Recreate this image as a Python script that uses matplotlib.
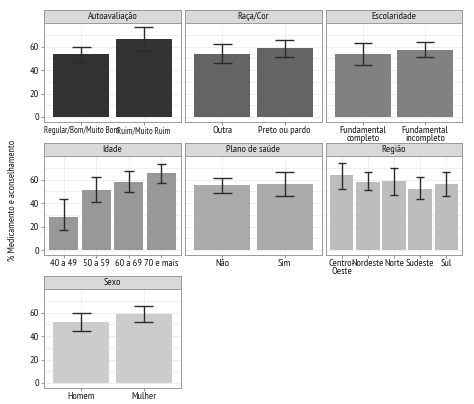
import numpy as np
import matplotlib
matplotlib.use("Agg")
import matplotlib.pyplot as plt

plt.rcParams['font.family'] = ['PT Sans Narrow', 'Open Sans Condensed',
                               'Fira Sans Condensed', 'DejaVu Sans']

# Data (percent, lower CI, upper CI) per facet
facets = ['Autoavaliação', 'Raça/Cor', 'Escolaridade', 'Idade',
          'Plano de saúde', 'Região', 'Sexo']

auto_cats = ['Regular/Bom/Muito Bom', 'Ruim/Muito Ruim']
auto_val = [53.2, 66.8]
auto_lo = [47.1, 56.2]
auto_hi = [59.5, 76.6]

raca_cats = ['Outra', 'Preto ou pardo']
raca_val = [53.8, 58.4]
raca_lo = [46.0, 50.8]
raca_hi = [61.8, 65.8]

esc_cats = ['Fundamental\ncompleto', 'Fundamental\nincompleto']
esc_val = [53.3, 57.3]
esc_lo = [44.1, 51.1]
esc_hi = [62.6, 63.8]

idade_cats = ['40 a 49', '50 a 59', '60 a 69', '70 e mais']
idade_val = [28.3, 51.2, 58.0, 65.4]
idade_lo = [16.6, 41.0, 49.0, 56.9]
idade_hi = [43.0, 62.2, 67.6, 73.6]

plano_cats = ['Não', 'Sim']
plano_val = [55.2, 56.3]
plano_lo = [48.7, 45.8]
plano_hi = [61.4, 66.8]

regiao_cats = ['Centro-\nOeste', 'Nordeste', 'Norte', 'Sudeste', 'Sul']
regiao_val = [63.9, 58.3, 58.9, 52.0, 56.0]
regiao_lo = [51.8, 50.7, 46.7, 43.0, 45.8]
regiao_hi = [74.4, 66.8, 69.6, 62.5, 66.8]

sexo_cats = ['Homem', 'Mulher']
sexo_val = [51.8, 58.9]
sexo_lo = [44.0, 51.6]
sexo_hi = [60.0, 65.3]

panels = [
    (auto_cats, auto_val, auto_lo, auto_hi),
    (raca_cats, raca_val, raca_lo, raca_hi),
    (esc_cats, esc_val, esc_lo, esc_hi),
    (idade_cats, idade_val, idade_lo, idade_hi),
    (plano_cats, plano_val, plano_lo, plano_hi),
    (regiao_cats, regiao_val, regiao_lo, regiao_hi),
    (sexo_cats, sexo_val, sexo_lo, sexo_hi),
]

# grey scale like ggplot's scale_fill_grey
g = np.linspace(0.2 ** 2.2, 0.8 ** 2.2, len(facets)) ** (1 / 2.2)
fills = [(v, v, v) for v in g]

W, H = 474, 404
fig = plt.figure(figsize=(W / 100, H / 100), dpi=100)

col_x = [44, 185, 326]
col_w = [137, 137, 136]
row_strip = [10, 143, 276]
strip_h = 12.5
panel_h = 99
fs = 7.4

ymax = max(max(p[3]) for p in panels)
ylim = (-0.05 * ymax, ymax * 1.05)

for i, (name, (cats, val, lo, hi)) in enumerate(zip(facets, panels)):
    r, c = divmod(i, 3)
    x0, w = col_x[c], col_w[c]
    top = row_strip[r] + strip_h
    ax = fig.add_axes([x0 / W, 1 - (top + panel_h) / H, w / W, panel_h / H])
    x = np.arange(1, len(cats) + 1)
    ax.bar(x, val, width=0.9, color=fills[i], zorder=2)
    ax.vlines(x, lo, hi, color='#2b2b2b', lw=1.0, zorder=3)
    for xi, l, h_ in zip(x, lo, hi):
        ax.hlines([l, h_], xi - 0.15, xi + 0.15, color='#2b2b2b', lw=1.0, zorder=3)
    ax.set_xlim(0.4, len(cats) + 0.6)
    ax.set_ylim(*ylim)
    ax.set_yticks([0, 20, 40, 60])
    ax.set_yticks([10, 30, 50, 70], minor=True)
    ax.set_xticks(x)
    # the long labels of the first panel need a smaller size to fit
    xfs = 6.3 if i == 0 else fs
    ax.set_xticklabels(cats, fontsize=xfs, linespacing=0.85)
    ax.grid(True, which='both', color='#ececec', lw=0.6, zorder=0)
    ax.set_axisbelow(True)
    ax.tick_params(axis='both', which='major', length=2.5, width=0.6,
                   color='#7f7f7f', pad=1.0, labelcolor='#1a1a1a')
    ax.tick_params(axis='y', labelsize=fs)
    ax.tick_params(axis='both', which='minor', length=0)
    if c != 0:
        ax.set_yticklabels([])
        ax.tick_params(axis='y', which='major', length=0)
    for s in ax.spines.values():
        s.set_color('#9a9a9a')
        s.set_linewidth(0.7)
    # strip
    sax = fig.add_axes([x0 / W, 1 - top / H, w / W, strip_h / H])
    sax.set_zorder(-1)
    sax.set_facecolor('#d9d9d9')
    sax.set_xticks([])
    sax.set_yticks([])
    for s in sax.spines.values():
        s.set_color('#9a9a9a')
        s.set_linewidth(0.7)
    sax.text(0.5, 0.45, name, ha='center', va='center', fontsize=fs,
             color='#1a1a1a', transform=sax.transAxes)

fig.text(12 / W, 1 - 200 / H, '% Medicamento e aconselhamento', rotation=90,
         ha='center', va='center', fontsize=7.2, color='#1a1a1a')

fig.savefig('out.png', dpi=100)
